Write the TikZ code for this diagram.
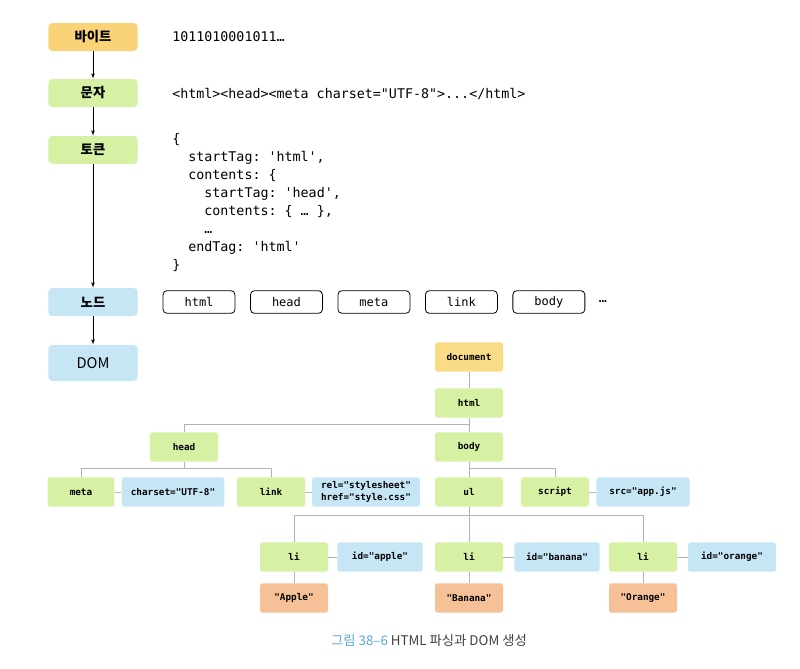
\documentclass[tikz,border=0pt]{standalone}
\usepackage{fontspec}
\setmainfont{Noto Sans CJK KR}
\setmonofont{DejaVu Sans Mono}
\usetikzlibrary{positioning}
\usetikzlibrary{arrows}
\definecolor{cyel}{HTML}{F9DC85}
\definecolor{cgrn}{HTML}{D6F0A4}
\definecolor{cblu}{HTML}{C6E6F6}
\definecolor{corg}{HTML}{F6C196}
\definecolor{ccap}{HTML}{5AA8DC}
\tikzstyle{stage} = [rectangle, rounded corners=3pt, minimum height=21pt, minimum width=67pt, font=\fontsize{10}{12}\selectfont\bfseries]
\tikzstyle{code} = [anchor=west, font=\ttfamily\fontsize{10}{13.5}\selectfont, inner sep=0pt]
\tikzstyle{tok} = [draw, rectangle, rounded corners=3pt, minimum height=17pt, minimum width=54pt, font=\ttfamily\fontsize{9}{11}\selectfont, semithick]
\tikzstyle{tn} = [rectangle, rounded corners=2pt, minimum height=22pt, font=\ttfamily\bfseries\fontsize{7}{8.5}\selectfont, inner sep=1pt]
\tikzstyle{link} = [draw=gray!60, thin]

\begin{document}
\begin{tikzpicture}[>=latex', x=0.75pt, y=-0.75pt]
    \useasboundingbox (0,0) rectangle (800,668);
    % left column
    \node[stage, fill=cyel!90!orange] (byte) at (93,37) {바이트};
    \node[stage, fill=cgrn] (char) at (93,93) {문자};
    \node[stage, fill=cgrn] (token) at (93,150) {토큰};
    \node[stage, fill=cblu] (nodes) at (93,302) {노드};
    \node[stage, fill=cblu, minimum height=27pt, font=\fontsize{11}{13}\selectfont] (dom) at (93,363) {DOM};
    \draw[->] (byte) -- (char);
    \draw[->] (char) -- (token);
    \draw[->] (token) -- (nodes);
    \draw[->] (nodes) -- (dom);

    % texts
    \node[code] (bits) at (172,37) {1011010001011…};
    \node[code] (html) at (172,94) {<html><head><meta charset="UTF-8">...</html>};
    \node[code, align=left, anchor=north west] (json) at (172,133) {%
\{\\
\phantom{xx}startTag: 'html',\\
\phantom{xx}contents: \{\\
\phantom{xxxx}startTag: 'head',\\
\phantom{xxxx}contents: \{ … \},\\
\phantom{xxxx}…\\
\phantom{xx}endTag: 'html'\\
\}};
    \node[tok] (t1) at (199,302) {html};
    \node[tok, right=11pt of t1] (t2) {head};
    \node[tok, right=11pt of t2] (t3) {meta};
    \node[tok, right=11pt of t3] (t4) {link};
    \node[tok, right=11pt of t4] (t5) {body};
    \node[code, right=10pt of t5] (tdots) {…};

    % tree
    \node[tn, fill=cyel, minimum width=51pt] (document) at (469,357) {document};
    \node[tn, fill=cgrn, minimum width=51pt] (nhtml) at (469,403) {html};
    \node[tn, fill=cgrn, minimum width=51pt] (head) at (184,447) {head};
    \node[tn, fill=cgrn, minimum width=51pt] (body) at (469,447) {body};
    \node[tn, fill=cgrn, minimum width=50pt] (meta) at (81,492) {meta};
    \node[tn, fill=cblu, minimum width=77pt] (charset) at (173,492) {charset="UTF-8"};
    \node[tn, fill=cgrn, minimum width=51pt] (nlink) at (271,492) {link};
    \node[tn, fill=cblu, minimum width=81pt, align=left, inner sep=2pt] (rel) at (366,492) {rel="stylesheet"\\href="style.css"};
    \node[tn, fill=cgrn, minimum width=51pt] (ul) at (469,492) {ul};
    \node[tn, fill=cgrn, minimum width=51pt] (script) at (555,492) {script};
    \node[tn, fill=cblu, minimum width=70pt] (src) at (643,492) {src="app.js"};
    \node[tn, fill=cgrn, minimum width=51pt] (li1) at (294,557) {li};
    \node[tn, fill=cblu, minimum width=64pt] (id1) at (380,557) {id="apple"};
    \node[tn, fill=cgrn, minimum width=51pt] (li2) at (469,557) {li};
    \node[tn, fill=cblu, minimum width=64pt] (id2) at (557,557) {id="banana"};
    \node[tn, fill=cgrn, minimum width=51pt] (li3) at (643,557) {li};
    \node[tn, fill=cblu, minimum width=66pt] (id3) at (732,557) {id="orange"};
    \node[tn, fill=corg, minimum width=51pt] (apple) at (294,598) {"Apple"};
    \node[tn, fill=corg, minimum width=51pt] (banana) at (469,598) {"Banana"};
    \node[tn, fill=corg, minimum width=51pt] (orange) at (643,598) {"Orange"};

    \draw[link] (document) -- (nhtml);
    \draw[link] (nhtml) -- (body);
    \draw[link] (nhtml.south) |- +(0,6) -| (head);
    \draw[link] (head.south) |- +(0,6) -| (meta);
    \draw[link] (head.south) |- +(0,6) -| (nlink);
    \draw[link] (body) -- (ul);
    \draw[link] (body.south) |- +(0,6) -| (script);
    \draw[link] (ul.south) |- +(0,8) -| (li1);
    \draw[link] (ul) -- (li2);
    \draw[link] (ul.south) |- +(0,8) -| (li3);
    \draw[link] (meta) -- (charset);
    \draw[link] (nlink) -- (rel);
    \draw[link] (script) -- (src);
    \draw[link] (li1) -- (id1);
    \draw[link] (li2) -- (id2);
    \draw[link] (li3) -- (id3);
    \draw[link] (li1) -- (apple);
    \draw[link] (li2) -- (banana);
    \draw[link] (li3) -- (orange);

    \node[font=\fontsize{10}{12}\selectfont, text=black!75] (caption) at (429,640) {\textcolor{ccap}{그림 38--6} HTML 파싱과 DOM 생성};
\end{tikzpicture}
\end{document}
